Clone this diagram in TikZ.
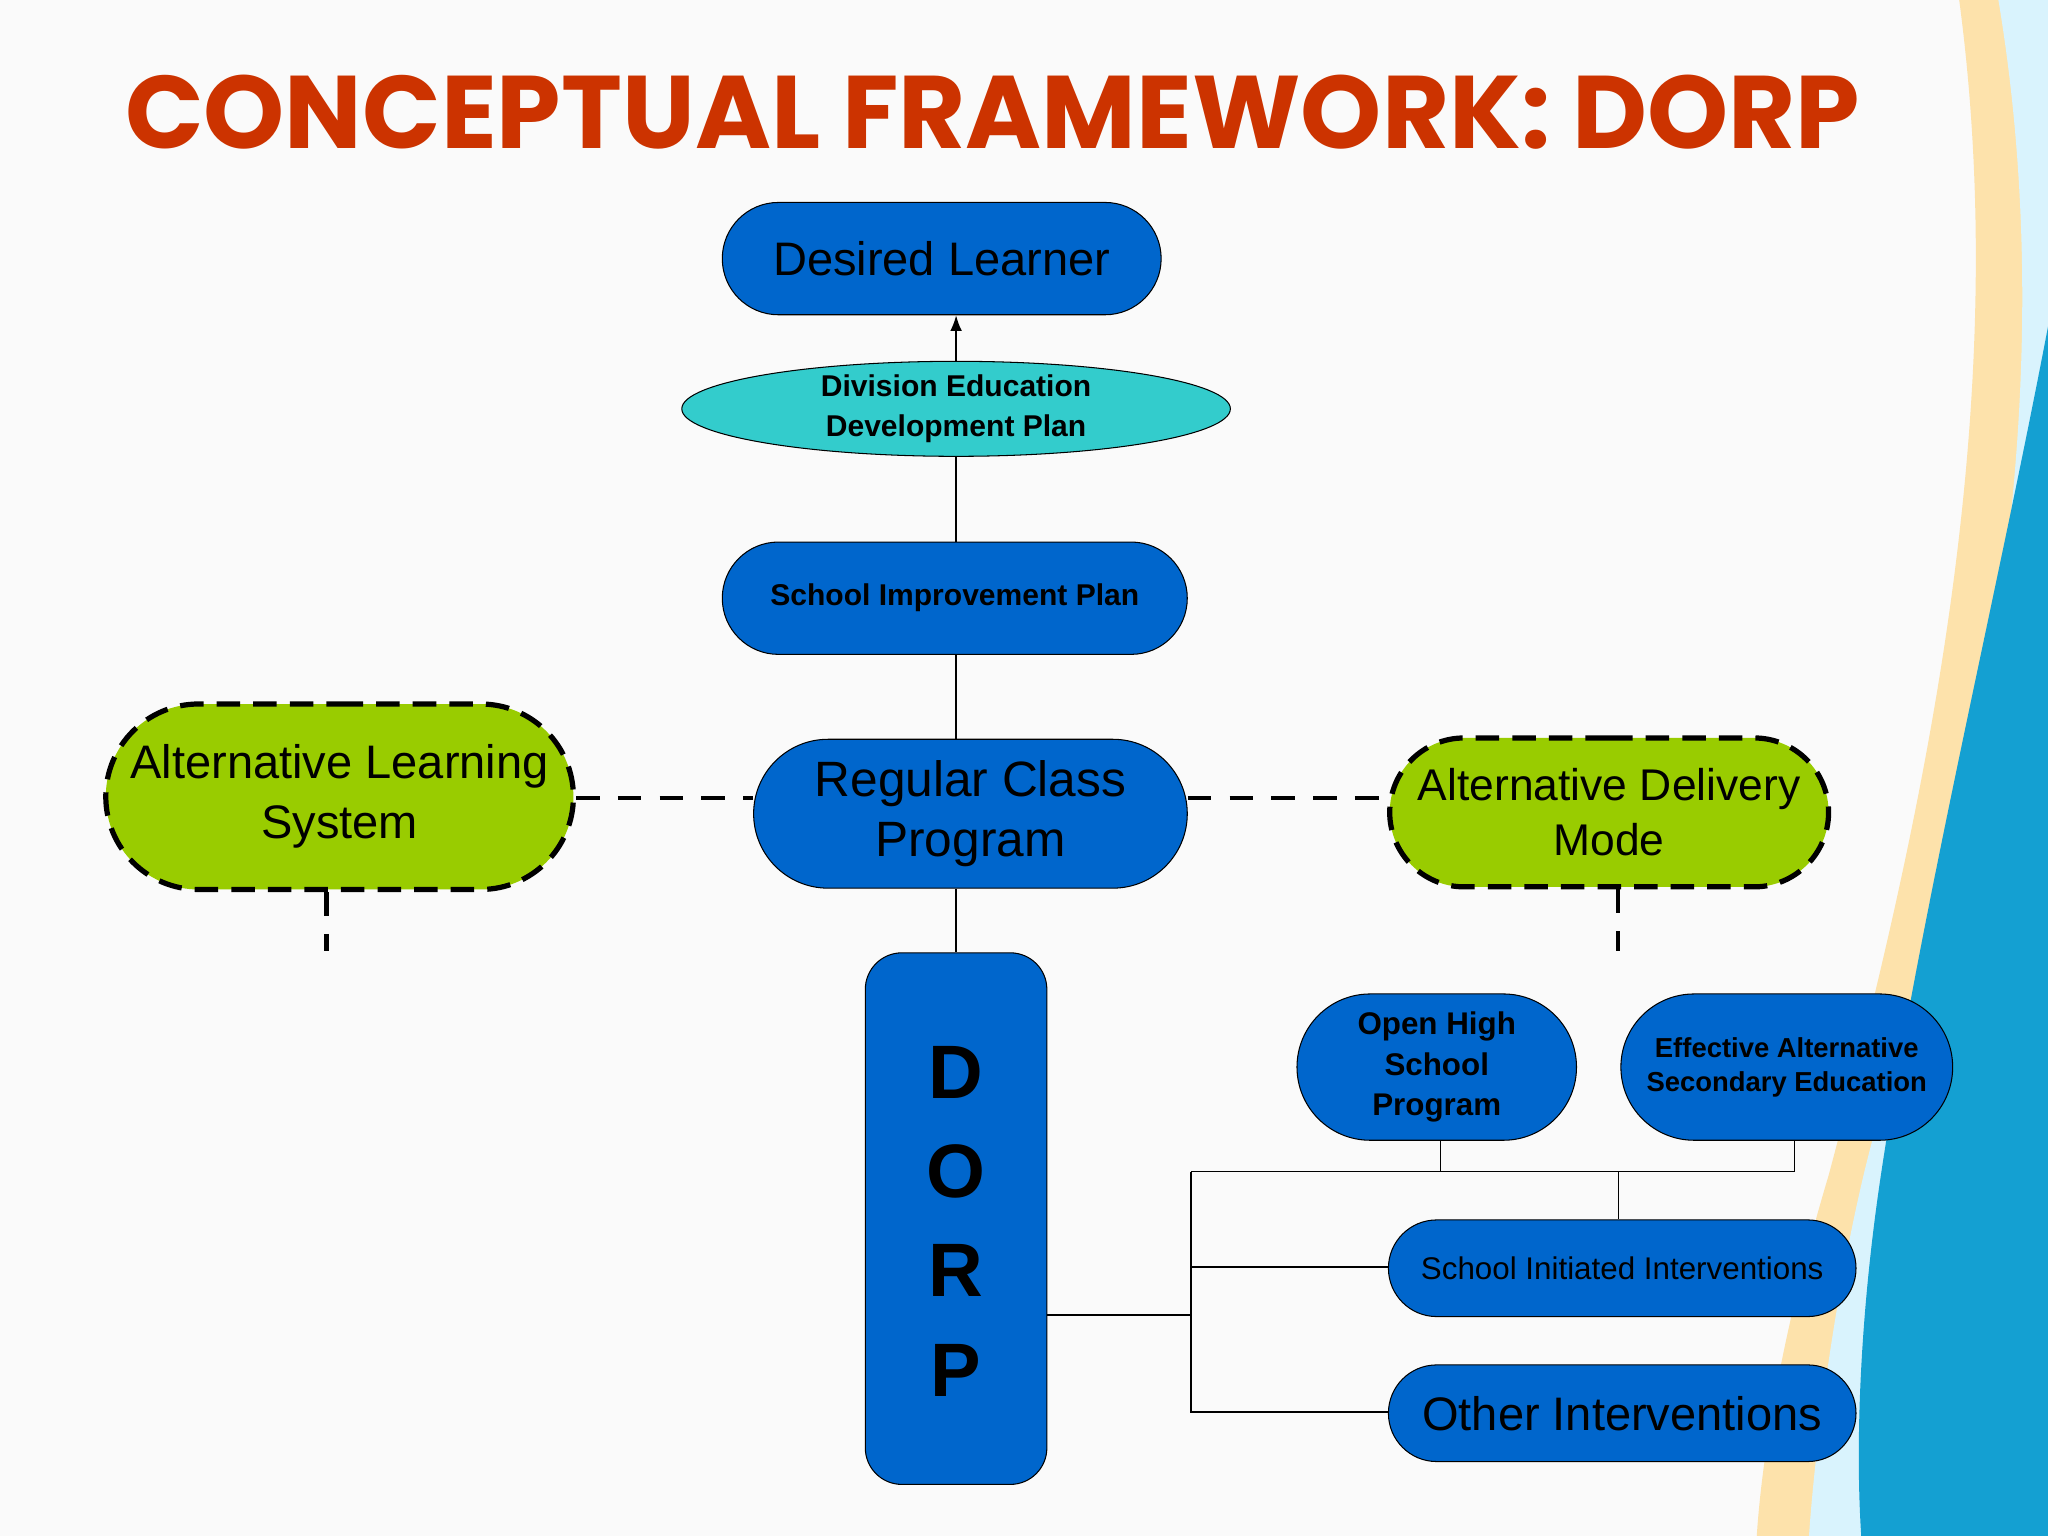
\documentclass[tikz,border=0pt]{standalone}
\usepackage{fontspec}
\setmainfont{Liberation Sans}
\newfontfamily\titlefont{Poppins}
\usetikzlibrary{shapes.misc,shapes.geometric,arrows.meta}
\definecolor{nblue}{RGB}{0,102,204}
\definecolor{ncyan}{RGB}{51,204,204}
\definecolor{ngreen}{RGB}{153,204,0}
\definecolor{ntitle}{RGB}{204,51,0}
\definecolor{wave}{RGB}{20,160,210}
\begin{document}
\begin{tikzpicture}[x=0.5pt,y=-0.5pt,
  pill/.style={rounded rectangle,draw=black,fill=nblue,align=center,inner sep=1pt},
  gpill/.style={rounded rectangle,draw=black,fill=ngreen,align=center,line width=2pt,dash pattern=on 9pt off 5pt,inner sep=1pt},
  ln/.style={draw=black,line width=0.6pt},
  dl/.style={draw=black,line width=1.6pt,dash pattern=on 9pt off 7pt}]
\useasboundingbox (0,0) rectangle (1568,1176);
\fill[white!96!gray] (0,0) rectangle (1568,1176);
% right decorations
\fill[yellow!30!orange!30] (1500,0) .. controls (1540,300) and (1480,600) .. (1400,900) .. controls (1370,1000) and (1350,1100) .. (1345,1176) -- (1568,1176) -- (1568,0) -- cycle;
\fill[cyan!15] (1530,0) .. controls (1580,300) and (1520,600) .. (1440,850) .. controls (1410,950) and (1390,1100) .. (1385,1176) -- (1568,1176) -- (1568,0) -- cycle;
\fill[wave] (1568,250) .. controls (1530,450) and (1470,700) .. (1440,900) .. controls (1425,1000) and (1420,1100) .. (1425,1176) -- (1568,1176) -- cycle;
\node[font=\titlefont\bfseries,text=ntitle] at (760,86) {\resizebox{664pt}{!}{CONCEPTUAL FRAMEWORK: DORP}};
\node[pill,minimum width=170pt,minimum height=43pt,font=\fontsize{18}{20}\selectfont] (dl) at (721,198) {Desired Learner};
\node[ellipse,draw=black,fill=ncyan,minimum width=210pt,minimum height=34pt,align=center,inner sep=0pt,font=\bfseries\fontsize{11.5}{15}\selectfont] (dedp) at (732,313) {Division Education\\ Development Plan};
\node[pill,minimum width=180pt,minimum height=43pt,font=\bfseries\fontsize{11.5}{14}\selectfont] (sip) at (731,458) {School Improvement Plan};
\node[pill,minimum width=168pt,minimum height=57pt,font=\fontsize{19}{23}\selectfont] (rcp) at (743,623) {Regular Class\\ Program};
\node[rectangle,rounded corners=14pt,draw=black,fill=nblue,minimum width=69.5pt,minimum height=203.5pt,inner sep=0pt] (dorp) at (732,933) {};
\node[font=\bfseries\fontsize{29}{36}\selectfont,align=center] at (732,935) {D\\[2pt]O\\[2pt]R\\[2pt]P};
\node[gpill,minimum width=181pt,minimum height=71pt,font=\fontsize{18}{23}\selectfont] (als) at (260,610) {Alternative Learning\\ System};
\node[gpill,minimum width=170pt,minimum height=57pt,font=\fontsize{17}{21}\selectfont] (adm) at (1232,622) {Alternative Delivery\\ Mode};
\node[pill,minimum width=109pt,minimum height=56pt,font=\bfseries\fontsize{12}{15.5}\selectfont] (ohsp) at (1100,817) {Open High\\ School\\ Program};
\node[pill,minimum width=129pt,minimum height=56pt,font=\bfseries\fontsize{10.5}{13}\selectfont] (ease) at (1368,817) {Effective Alternative\\ Secondary Education};
\node[pill,minimum width=181pt,minimum height=37pt,font=\fontsize{12}{14}\selectfont] (sii) at (1242,971) {School Initiated Interventions};
\node[pill,minimum width=181pt,minimum height=37pt,font=\fontsize{18}{20}\selectfont] (oi) at (1242,1082) {Other Interventions};
% connectors
\draw[ln,-{Latex[length=6pt]}] (dedp.north) -- (dl.south -| dedp.north);
\draw[ln] (dedp.south) -- (sip.north -| dedp.south);
\draw[ln] (sip.south -| dorp.north) -- (rcp.north -| dorp.north);
\draw[ln] (rcp.south -| dorp.north) -- (dorp.north);
\draw[dl] (als.east |- 0,611) -- (rcp.west |- 0,611);
\draw[dl] (rcp.east |- 0,611) -- (adm.west |- 0,611);
\coordinate (als1) at (250,728);
\coordinate (adm1) at (1239,728);
\draw[dl] (als.south -| als1) -- (als1);
\draw[dl] (adm.south -| adm1) -- (adm1);
\coordinate (j1) at (912,1007);
\coordinate (jt) at (912,897);
\coordinate (jb) at (912,1081);
\draw[ln] (dorp.east |- j1) -- (j1);
\draw[ln] (jt) -- (jb) -- (oi.west |- jb);
\draw[ln] (912,970) -- (sii.west |- 0,970);
\draw[ln] (jt) -- (1374,897) -- (ease.south -| 1374,0);
\draw[ln] (ohsp.south -| 1103,0) -- (1103,897);
\draw[ln] (1239,897) -- (sii.north -| 1239,0);
\end{tikzpicture}
\end{document}
